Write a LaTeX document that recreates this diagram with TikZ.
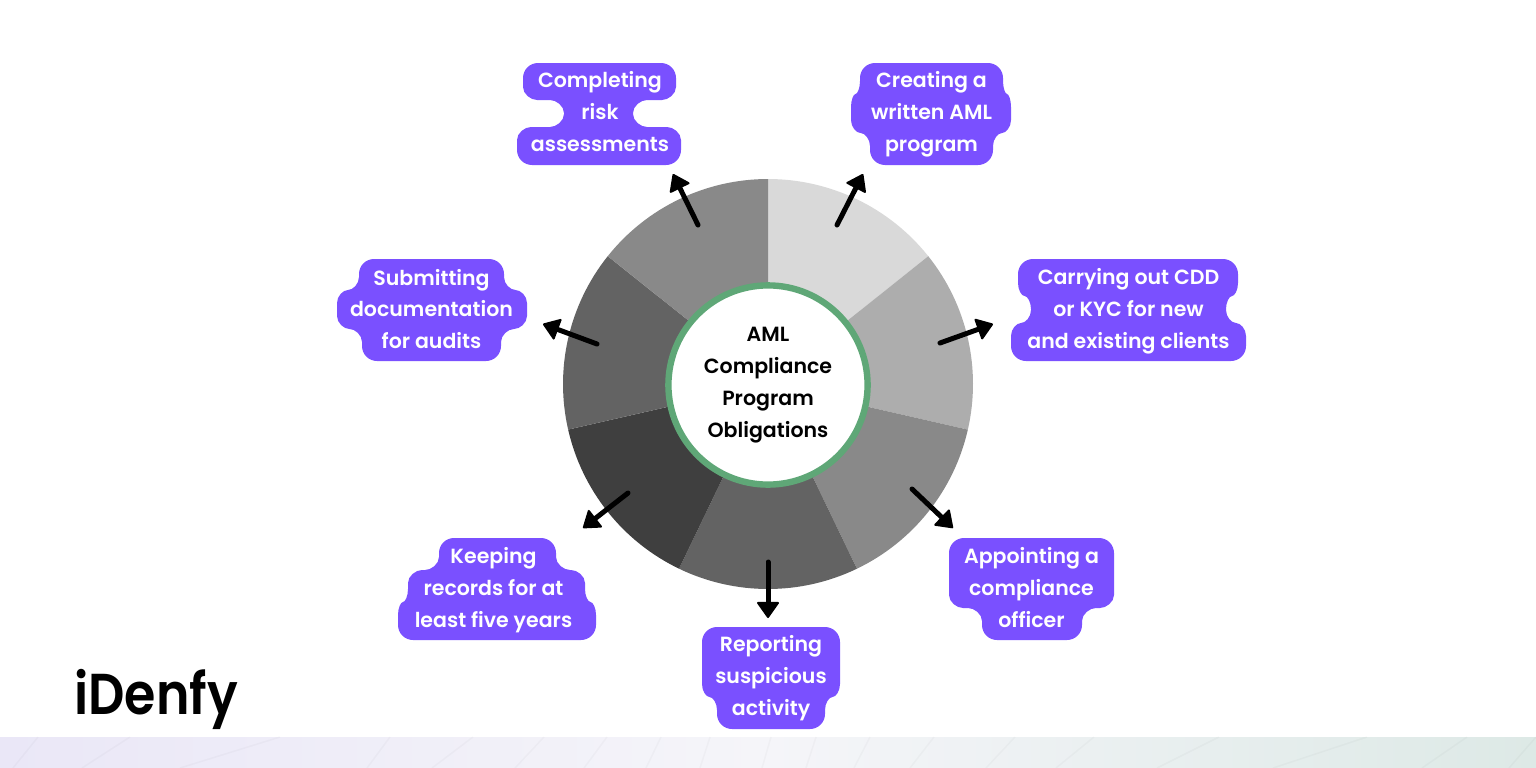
\documentclass[tikz,border=0pt]{standalone}
\usepackage{fontspec}
\setmainfont{Poppins}[BoldFont={Poppins SemiBold}]
\newfontfamily\logofont{Poppins SemiBold}[FakeStretch=0.88]
\definecolor{boxviolet}{RGB}{122, 80, 255}
\definecolor{ringgreen}{RGB}{95, 167, 119}
\definecolor{stripleft}{RGB}{234, 231, 247}
\definecolor{stripmid}{RGB}{245, 245, 249}
\definecolor{stripright}{RGB}{221, 233, 230}
\usetikzlibrary{arrows.meta, positioning, calc}
\tikzset{
  declare function={stepr(\a,\b)=(\b>\a ? 1 : -1)*min(14,abs(\b-\a)/2);},
  itemtext/.style={text=white, align=center, inner sep=0pt, font=\bfseries\fontsize{14.6}{22.7}\selectfont},
  pointer/.style={line width=1.25mm, line cap=round, -{Triangle[length=4.2mm, width=5.8mm, round, line width=1.4pt]}},
  stripline/.style={line width=0.4mm, black, opacity=0.025}
}
% one side of a label: from x #1 to x #2 at height #3, #4 is 1 going down, -1 going up
\newcommand{\stepedge}[4]{
  -- (#1,#3-#4*13) .. controls (#1,#3-#4*6) and ({#1+0.55*stepr(#1,#2)},#3) .. ({#1+stepr(#1,#2)},#3)
  -- ({#2-stepr(#1,#2)},#3) .. controls ({#2-0.55*stepr(#1,#2)},#3) and (#2,#3+#4*6) .. (#2,#3+#4*13)
}
% label background: top, then left/right of the three lines, then the two steps
\newcommand{\itembox}[9]{
  \fill[boxviolet]
    (#2+15,#1) -- (#3-15,#1) arc[start angle=-90, end angle=0, radius=15]
    \stepedge{#3}{#5}{#8}{1} \stepedge{#5}{#7}{#9}{1}
    -- (#7,#1+87) arc[start angle=0, end angle=90, radius=15]
    -- (#6+15,#1+102) arc[start angle=90, end angle=180, radius=15]
    \stepedge{#6}{#4}{#9}{-1} \stepedge{#4}{#2}{#8}{-1}
    -- (#2,#1+15) arc[start angle=180, end angle=270, radius=15] -- cycle;
}

\begin{document}
\begin{tikzpicture}[x=0.25mm, y=-0.25mm]
  \useasboundingbox (0,0) rectangle (1536,768);

  % Bottom strip
  \fill[left color=stripleft, right color=stripright, middle color=stripmid] (0,737) rectangle (1536,768);
  \foreach \topx/\botx in {38/13, 130/82, 280/180, 390/367, 473/432, 544/515, 607/584, 661/646, 710/700,
      771/762, 816/806, 870/854, 934/910, 1015/986, 1094/1056, 1219/1157, 1367/1273, 1467/1422, 1536/1509}
    \draw[stripline] (\topx,737) -- (\botx,768);

  % Wheel
  \foreach \i/\shade in {0/217, 1/173, 2/137, 3/99, 4/63, 5/99, 6/137} {
    \definecolor{wedge}{RGB}{\shade,\shade,\shade}
    \fill[wedge] (768,384) -- ($(768,384)+({-90+\i*51.43}:205)$) arc[start angle={-90+\i*51.43}, delta angle=51.43, radius=205] -- cycle;
  }
  \node[circle, draw=ringgreen, fill=white, line width=1.6mm, minimum size=49.8mm, inner sep=0pt, align=center,
    font=\bfseries\fontsize{14.6}{22.7}\selectfont] (hub) at (768,385) {AML\\Compliance\\Program\\Obligations};

  % Labels
  \itembox{63}{523}{676}{564}{633}{517}{681}{100}{127}
  \node[itemtext] (complete) at (600,111.5) {Completing\\risk\\assessments};
  \itembox{63}{860}{1003}{851}{1011}{870}{993}{94}{133}
  \node[itemtext] (create) at (931.5,114) {Creating a\\written AML\\program};
  \itembox{259}{1018}{1238}{1031}{1226}{1011}{1246}{296}{323}
  \node[itemtext] (carry) at (1128.5,311) {Carrying out CDD\\or KYC for new\\and existing clients};
  \itembox{538}{949}{1114}{949}{1114}{982}{1082}{570}{608}
  \node[itemtext] (appoint) at (1031.5,587.5) {Appointing a\\compliance\\officer};
  \itembox{627}{702}{840}{702}{840}{717}{825}{659}{697}
  \node[itemtext] (report) at (771,678) {Reporting\\suspicious\\activity};
  \itembox{538}{439}{556}{408}{585}{398}{596}{570}{602}
  \node[itemtext] (keep) at (493.5,590) {Keeping\\records for at\\least five years};
  \itembox{259}{359}{504}{337}{527}{362}{501}{290}{329}
  \node[itemtext] (submit) at (431.5,309) {Submitting\\documentation\\for audits};

  % Arrows
  \foreach \name/\fx/\fy/\tx/\ty in {create/837/225/863/174, complete/698/225/673/174, carry/940/343/993/324,
      submit/597/344/543/324, appoint/912/489/953/528, keep/628/493/583/528, report/768/562/768/618} {
    \coordinate (\name-from) at (\fx,\fy);
    \coordinate (\name-to) at (\tx,\ty);
    \draw[pointer] (\name-from) -- (\name-to);
  }

  % Logo
  \node[inner sep=0pt, anchor=base west, font=\logofont\fontsize{41}{41}\selectfont] (logo) at (74,714) {iDenfy};
\end{tikzpicture}
\end{document}
